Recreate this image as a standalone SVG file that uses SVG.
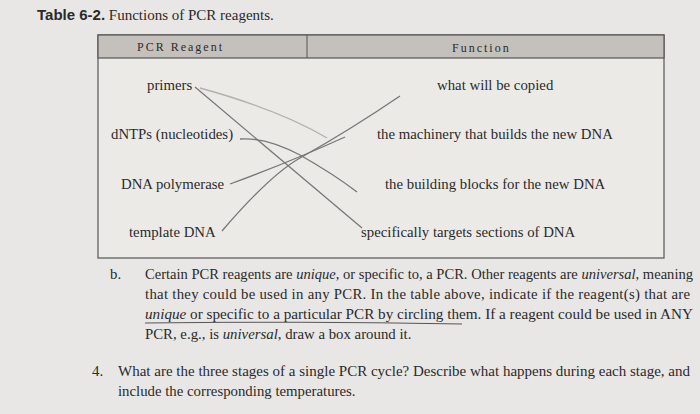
<svg xmlns="http://www.w3.org/2000/svg" width="700" height="414" viewBox="0 0 700 414">
<style>
text{font-family:"Liberation Serif",serif;fill:#2a2a2a}
.c{font-size:14.8px}
.h{font-size:12px;letter-spacing:2px}
.b{font-size:14.8px}
.p{fill:none;stroke:#777;stroke-width:1.3}
</style>
<rect width="700" height="414" fill="#e8e7e5"/>
<text x="37" y="20" font-size="15"><tspan font-weight="bold" font-family="Liberation Sans,sans-serif">Table 6-2.</tspan> Functions of PCR reagents.</text>
<g id="table">
<rect x="98" y="35" width="566" height="223" fill="#eceae7" stroke="#555" stroke-width="1.2"/>
<rect x="98" y="35" width="566" height="23" fill="#c4c1bd" stroke="#555" stroke-width="1.2"/>
<line x1="307" y1="35" x2="307" y2="58" stroke="#555"/>
<text x="137" y="51" class="h">PCR Reagent</text>
<text x="452" y="52" class="h">Function</text>
</g>
<g id="reagents">
<text x="147" y="90" class="c">primers</text>
<text x="111" y="139" class="c">dNTPs (nucleotides)</text>
<text x="121" y="189" class="c">DNA polymerase</text>
<text x="129" y="237" class="c">template DNA</text>
</g>
<g id="functions">
<text x="437" y="90" class="c">what will be copied</text>
<text x="377" y="139" class="c">the machinery that builds the new DNA</text>
<text x="385" y="189" class="c">the building blocks for the new DNA</text>
<text x="361" y="237" class="c">specifically targets sections of DNA</text>
</g>
<g id="connectors">
<path class="p" d="M195,87 L362,228"/>
<path class="p" d="M200,88 Q280,110 327,138" stroke-opacity="0.5"/>
<path class="p" d="M240,139 Q266,137 300,155 Q335,175 357,192"/>
<path class="p" d="M230,184 Q290,162 345,137"/>
<path class="p" d="M222,231 Q270,175 300,158 Q350,130 400,96"/>
</g>
<g id="text">
<text x="110" y="279" class="b">b.</text>
<text x="145" y="279" class="b" textLength="548" lengthAdjust="spacingAndGlyphs">Certain PCR reagents are <tspan font-style="italic">unique</tspan>, or specific to, a PCR. Other reagents are <tspan font-style="italic">universal</tspan>, meaning</text>
<text x="145" y="299" class="b" textLength="545">that they could be used in any PCR. In the table above, indicate if the reagent(s) that are</text>
<text x="145" y="319" class="b" textLength="548" lengthAdjust="spacingAndGlyphs"><tspan font-style="italic">unique</tspan> or specific to a particular PCR by circling them. If a reagent could be used in ANY</text>
<text x="145" y="339" class="b">PCR, e.g., is <tspan font-style="italic">universal</tspan>, draw a box around it.</text>
<path d="M145,323 Q300,321 462,324" fill="none" stroke="#555" stroke-width="1"/>
<text x="92" y="376" class="b">4.</text>
<text x="118" y="376" class="b" textLength="572" lengthAdjust="spacingAndGlyphs">What are the three stages of a single PCR cycle? Describe what happens during each stage, and</text>
<text x="118" y="396" class="b">include the corresponding temperatures.</text>
</g>
</svg>
